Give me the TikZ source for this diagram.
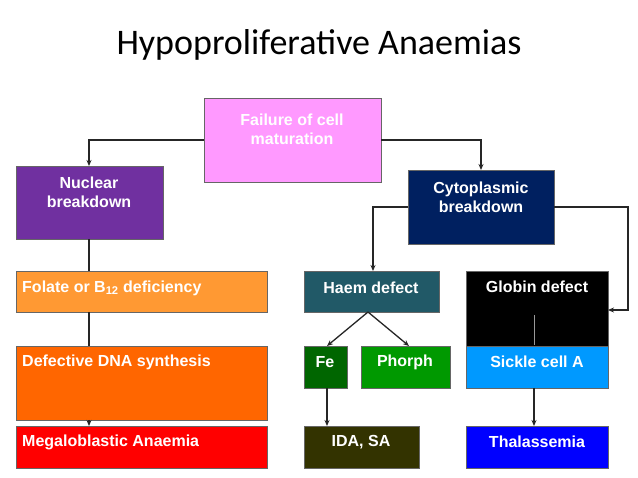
\documentclass[tikz,border=0pt]{standalone}
\usepackage{fontspec}
\setmainfont{Liberation Sans}
\newfontfamily\titlefont{Carlito}
\usetikzlibrary{arrows.meta}
\definecolor{cpink}{HTML}{FF99FF}
\definecolor{cpurple}{HTML}{7030A0}
\definecolor{cnavy}{HTML}{002060}
\definecolor{corange}{HTML}{FF9933}
\definecolor{cteal}{HTML}{215967}
\definecolor{cdorange}{HTML}{FF6600}
\definecolor{cdgreen}{HTML}{006600}
\definecolor{cgreen}{HTML}{009900}
\definecolor{csky}{HTML}{0099FF}
\definecolor{cred}{HTML}{FF0000}
\definecolor{colive}{HTML}{333300}
\definecolor{cblue}{HTML}{0000FF}
\tikzset{
  bx/.style={draw=black!60, line width=0.6pt},
  lbl/.style={text=white, font=\fontsize{16}{19}\selectfont\bfseries, align=center, inner sep=0pt},
  ln/.style={draw=black!85, line width=1.3pt},
  ar/.style={ln, -{Stealth[length=6pt,width=5pt]}}
}
\begin{document}
\begin{tikzpicture}[x=1pt,y=-1pt]
\useasboundingbox (0,0) rectangle (638,478);
\node[font=\titlefont\fontsize{36}{40}\selectfont] (title) at (319,45) {Hypoproliferative Anaemias};
% boxes
\path[bx,fill=cpink] (204,98) rectangle (381,182); \coordinate (fail) at (292,140);
\node[lbl,anchor=center] (failt) at (292,129) {Failure of cell\\maturation};
\path[bx,fill=cpurple] (16,166) rectangle (163,239);
\node[lbl] (nuct) at (89,192) {Nuclear\\breakdown};
\path[bx,fill=cnavy] (408,170) rectangle (554,244);
\node[lbl] (cytt) at (481,197) {Cytoplasmic\\breakdown};
\path[bx,fill=corange] (16,271) rectangle (267,312);
\node[lbl,anchor=west] (fol) at (22,288) {Folate or B\textsubscript{12} deficiency};
\path[bx,fill=cteal] (304,271) rectangle (439,312);
\node[lbl] (haem) at (371,288) {Haem defect};
\path[bx,fill=black] (466,271) rectangle (608,346);
\node[lbl] (glob) at (537,287) {Globin defect};
\draw[black!40, line width=0.6pt] (534,315) -- (534,345);
\path[bx,fill=cdorange] (16,346) rectangle (267,420);
\node[lbl,anchor=west] (def) at (22,362) {Defective DNA synthesis};
\path[bx,fill=cdgreen] (304,346) rectangle (347,388);
\node[lbl] (fe) at (325,362) {Fe};
\path[bx,fill=cgreen] (361,346) rectangle (450,388);
\node[lbl] (phor) at (405,362) {Phorph};
\path[bx,fill=csky] (466,346) rectangle (608,388);
\node[lbl] (sick) at (537,362) {Sickle cell A};
\path[bx,fill=cred] (16,426) rectangle (267,468);
\node[lbl,anchor=west] (meg) at (22,442) {Megaloblastic Anaemia};
\path[bx,fill=colive] (304,426) rectangle (419,468);
\node[lbl] (ida) at (361,442) {IDA, SA};
\path[bx,fill=cblue] (466,426) rectangle (608,468);
\node[lbl] (thal) at (537,442) {Thalassemia};
% connectors
\draw[ar] (204,140) -| (89,166);
\draw[ar] (381,140) -| (481,170);
\draw[ln] (89,239) -- (89,271);
\draw[ln] (89,312) -- (89,346);
\draw[ar] (89,420) -- (89,426);
\draw[ar] (408,207) -| (373,271);
\draw[ar] (554,207) -- (628,207) -- (628,310) -- (608,310);
\draw[ar] (368,312) -- (327,346);
\draw[ar] (368,312) -- (409,346);
\draw[ar] (327,388) -- (327,426);
\draw[ar] (534,388) -- (534,426);
\end{tikzpicture}
\end{document}
